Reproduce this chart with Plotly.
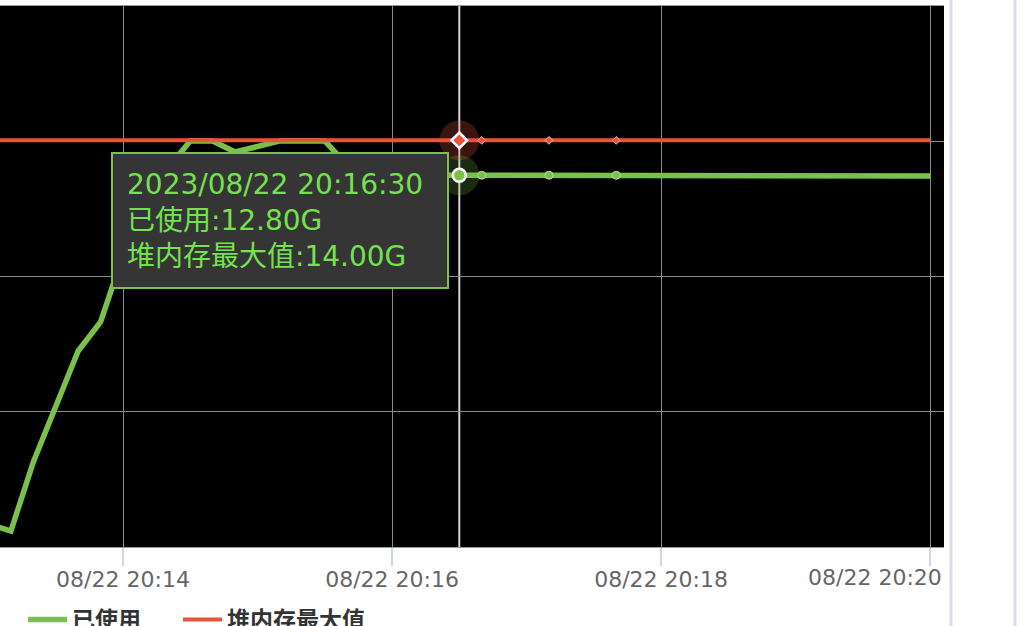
import pandas as pd
import plotly.graph_objects as go

# memory in G (1024^3 bytes), one sample every 10 s
GIB = 1024 ** 3
times = pd.date_range("2023-08-22 20:13:00", "2023-08-22 20:20:00", freq="10s")

used_g = [0.79, 0.55, 2.93, 4.85, 6.75, 7.75,
          10.05, 11.80, 13.05, 13.98, 13.98, 13.60,
          13.79, 13.98, 13.98, 13.98, 13.15, 12.90,
          12.82, 12.80, 12.80, 12.80, 12.80, 12.80,
          12.80, 12.80, 12.80, 12.80, 12.80, 12.79,
          12.79, 12.79, 12.79, 12.79, 12.78, 12.78,
          12.78, 12.78, 12.78, 12.78, 12.78, 12.77,
          12.77]
heap_max_g = [14.00] * len(times)

tick_times = pd.to_datetime(["2023-08-22 20:14", "2023-08-22 20:16",
                             "2023-08-22 20:18", "2023-08-22 20:20"])
tick_labels = [t.strftime("%m/%d %H:%M") for t in tick_times]

hover_time = pd.Timestamp("2023-08-22 20:16:30")
hover_used = 12.80
hover_max = 14.00
symbol_times = pd.to_datetime(["2023-08-22 20:16:40", "2023-08-22 20:17:10", "2023-08-22 20:17:40"])

GREEN = "#7cc04c"
RED = "#e9533a"
TIP_GREEN = "#74e24c"
TICK_FONT = dict(family="DejaVu Sans", size=22, color="#666666")
LEGEND_FONT = dict(family="Noto Sans CJK SC", size=23, color="#333333", weight="bold")

used_b = [v * GIB for v in used_g]
max_b = [v * GIB for v in heap_max_g]

fig = go.Figure()

fig.add_trace(go.Scatter(x=times, y=used_b, mode="lines", name="已使用", legend="legend",
                         line=dict(color=GREEN, width=5.5), hoverinfo="skip"))
fig.add_trace(go.Scatter(x=times, y=max_b, mode="lines", name="堆内存最大值", legend="legend2",
                         line=dict(color=RED, width=4), hoverinfo="skip"))

# small point symbols after the hovered point
sym_idx = [list(times).index(t) for t in symbol_times]
fig.add_trace(go.Scatter(x=symbol_times, y=[used_b[i] for i in sym_idx], mode="markers",
                         marker=dict(symbol="circle", size=8, color=GREEN,
                                     line=dict(color="#b5dc9a", width=1)),
                         showlegend=False, hoverinfo="skip"))
fig.add_trace(go.Scatter(x=symbol_times, y=[max_b[i] for i in sym_idx], mode="markers",
                         marker=dict(symbol="diamond", size=6, color=RED,
                                     line=dict(color="#f4b0a0", width=1)),
                         showlegend=False, hoverinfo="skip"))

# hover halos + hovered markers
fig.add_trace(go.Scatter(x=[hover_time, hover_time], y=[hover_max * GIB, hover_used * GIB],
                         mode="markers",
                         marker=dict(size=40, color=["rgba(233,83,58,0.25)", "rgba(124,192,76,0.22)"]),
                         showlegend=False, hoverinfo="skip"))
fig.add_trace(go.Scatter(x=[hover_time], y=[hover_max * GIB], mode="markers",
                         marker=dict(symbol="diamond", size=12, color=RED,
                                     line=dict(color="white", width=2.5)),
                         showlegend=False, hoverinfo="skip"))
fig.add_trace(go.Scatter(x=[hover_time], y=[hover_used * GIB], mode="markers",
                         marker=dict(symbol="circle", size=13, color=GREEN,
                                     line=dict(color="white", width=2.5)),
                         showlegend=False, hoverinfo="skip"))

# crosshair
fig.add_shape(type="line", xref="x", yref="paper", x0=hover_time, x1=hover_time, y0=0, y1=1,
              line=dict(color="rgba(240,235,235,0.9)", width=2), layer="below")

# page dividers on the right
for px in [1.0074, 1.0752]:
    fig.add_shape(type="line", xref="paper", yref="paper", x0=px, x1=px, y0=-0.2, y1=1.02,
                  line=dict(color="#dcdce6", width=3))

tip_text = (hover_time.strftime("%Y/%m/%d %H:%M:%S") + "<br>"
            + "已使用:%.2fG" % hover_used + "<br>"
            + "堆内存最大值:%.2fG" % hover_max)
fig.add_annotation(x=hover_time, y=hover_used * GIB, xref="x", yref="y",
                   xanchor="right", yanchor="top", xshift=-10, yshift=23,
                   text=tip_text, showarrow=False, align="left", valign="middle",
                   width=306, height=105,
                   font=dict(family="DejaVu Sans, Noto Sans CJK SC", size=28, color=TIP_GREEN),
                   bgcolor="#353535", bordercolor=GREEN, borderwidth=2, borderpad=14)

# last tick label is pushed inside the plot edge
fig.add_annotation(x=1, y=-0.0573, xref="paper", yref="paper", xanchor="right", yanchor="middle",
                   text=tick_labels[-1], showarrow=False, font=TICK_FONT)

fig.update_layout(
    width=1028, height=626,
    margin=dict(l=0, r=84, t=6, b=79, autoexpand=False),
    paper_bgcolor="white",
    plot_bgcolor="black",
    showlegend=True,
    legend=dict(orientation="h", x=0.0244, y=-0.0943, xanchor="left", yanchor="top",
                font=LEGEND_FONT, itemwidth=39),
    legend2=dict(orientation="h", x=0.1886, y=-0.0943, xanchor="left", yanchor="top",
                 font=LEGEND_FONT, itemwidth=39),
    xaxis=dict(range=["2023-08-22 20:13:05.13", "2023-08-22 20:20:06.2"],
               type="date", tickvals=tick_times, ticktext=tick_labels[:-1] + [""],
               showgrid=True, gridcolor="#8c8c8c", gridwidth=1,
               ticks="outside", ticklen=18, tickwidth=2, tickcolor="#ccd6eb",
               ticklabelstandoff=-5,
               showline=True, linecolor="#999999", linewidth=1, mirror=True,
               tickfont=TICK_FONT, zeroline=False),
    yaxis=dict(range=[0, 20e9], dtick=5e9, showgrid=True, gridcolor="#8c8c8c", gridwidth=1,
               showticklabels=False, zeroline=False, showline=False),
)

fig.write_html("out.html", config={"displayModeBar": False},
               post_script="document.body.style.margin='0';")
